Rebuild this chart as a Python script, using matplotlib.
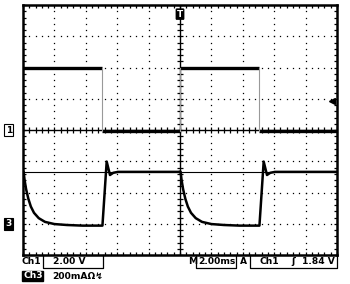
import matplotlib
matplotlib.use("Agg")
import matplotlib.pyplot as plt
import numpy as np

# scope settings
CH1_VOLTS_PER_DIV = 2.0
CH3_MA_PER_DIV = 200.0
CH3_OFFSET_DIV = -3.0
TRIG_LEVEL_V = 1.84

# Ch1 gate voltage (square wave), time in ms
ch1_edges_ms = [0.0, 5.0, 10.0, 15.0, 20.0]
ch1_levels_v = [3.94, -0.04, 3.94, -0.04]

# Ch3 current over one period (ms, mA)
ch3_t_ms = [0.0, 0.04, 0.10, 0.20, 0.34, 0.50, 0.70, 1.00, 1.40, 2.00,
            2.80, 3.80, 5.06, 5.33, 5.54, 5.75, 6.05, 10.0]
ch3_i_ma = [332, 332, 280, 220, 160, 110, 70, 36, 12, -2,
            -8, -12, -12, 398, 312, 326, 332, 332]
ch3_period_ms = 10.0
ch3_ref_ma = 332

fig = plt.figure(figsize=(3.5, 2.84), dpi=100)
ax = fig.add_axes([23 / 350, 29 / 284, 314 / 350, 250 / 284])
ax.set_xlim(0, 20)
ax.set_ylim(-4, 4)

# dotted graticule
minor_x = np.arange(0, 20.001, 0.4)
minor_y = np.arange(-4, 4.001, 0.2)
for gx in np.arange(2, 20, 2):
    if gx != 10:
        ax.plot(np.full(minor_y.size, gx), minor_y, ls="none", marker="s",
                ms=0.9, color="black", mew=0)
for gy in np.arange(-3, 4, 1):
    if gy != 0:
        ax.plot(minor_x, np.full(minor_x.size, gy), ls="none", marker="s",
                ms=0.9, color="black", mew=0)

# center cross with small ticks
ax.axvline(10, color="black", lw=1.0)
ax.axhline(0, color="black", lw=1.0)
ax.plot(minor_x, np.zeros(minor_x.size), ls="none", marker="|", ms=4,
        color="black", mew=0.9)
ax.plot(np.full(minor_y.size, 10), minor_y, ls="none", marker="_", ms=4,
        color="black", mew=0.9)

# frame ticks
ax.set_xticks(minor_x)
ax.set_yticks(minor_y)
ax.tick_params(direction="in", length=2.2, width=0.9, top=True, right=True,
               labelbottom=False, labelleft=False)
for side in ["left", "right", "top", "bottom"]:
    ax.spines[side].set_linewidth(1.8)

# Ch3 reference line and trace
ax.axhline(CH3_OFFSET_DIV + ch3_ref_ma / CH3_MA_PER_DIV, color="black", lw=0.8)
t = np.array(ch3_t_ms)
i = np.array(ch3_i_ma)
for k in range(2):
    ax.plot(t + k * ch3_period_ms, CH3_OFFSET_DIV + i / CH3_MA_PER_DIV,
            color="black", lw=1.8, solid_joinstyle="round")

# Ch1 trace
for k in range(len(ch1_levels_v)):
    y = ch1_levels_v[k] / CH1_VOLTS_PER_DIV
    ax.plot([ch1_edges_ms[k], ch1_edges_ms[k + 1]], [y, y], color="black", lw=2.4,
            solid_capstyle="butt")
    if k > 0:
        y0 = ch1_levels_v[k - 1] / CH1_VOLTS_PER_DIV
        ax.plot([ch1_edges_ms[k]] * 2, [y0, y], color="#999999", lw=0.8)

# channel markers
ytr = ax.get_yaxis_transform()
ax.text(-0.045, 0, "1", transform=ytr, ha="center", va="center", fontsize=6.5,
        fontweight="bold", clip_on=False,
        bbox=dict(boxstyle="square,pad=0.15", fc="white", ec="black", lw=0.8))
ax.text(-0.045, CH3_OFFSET_DIV, "3", transform=ytr, ha="center", va="center",
        fontsize=6.5, fontweight="bold", color="white", clip_on=False,
        bbox=dict(boxstyle="square,pad=0.15", fc="black", ec="black", lw=0.8))
ax.plot([0.985], [TRIG_LEVEL_V / CH1_VOLTS_PER_DIV], transform=ytr, marker="<",
        ms=4, color="black", clip_on=False)
ax.text(10, 3.85, "T", ha="center", va="top", fontsize=6.5, fontweight="bold",
        color="white",
        bbox=dict(boxstyle="round,pad=0.1", fc="black", ec="black", lw=0.5))

# readout
fs = 6.6
row1 = 1 - 262 / 284
row2 = 1 - 276 / 284
fig.text(22 / 350, row1, "Ch1", fontsize=fs, fontweight="bold",
         va="center", ha="left")
fig.text(53 / 350, row1, "2.00 V", fontsize=fs, fontweight="bold",
         va="center", ha="left")
fig.text(23 / 350, row2, "Ch3", fontsize=fs, fontweight="bold",
         va="center", ha="left", color="white",
         bbox=dict(boxstyle="square,pad=0.08", fc="black", ec="black"))
fig.text(52 / 350, row2, "200mA\u03a9\u21af", fontsize=fs,
         fontweight="bold", va="center", ha="left")
fig.text(188 / 350, row1, "M", fontsize=fs, fontweight="bold",
         va="center", ha="left")
fig.text(198 / 350, row1, "2.00ms", fontsize=fs, fontweight="bold",
         va="center", ha="left")
fig.text(240 / 350, row1, "A", fontsize=fs, fontweight="bold",
         va="center", ha="left")
fig.text(259 / 350, row1, "Ch1", fontsize=fs, fontweight="bold",
         va="center", ha="left")
fig.text(293 / 350, row1, "\u0283", fontsize=fs, fontweight="bold",
         va="center", ha="center")
fig.text(335 / 350, row1, "1.84 V", fontsize=fs, fontweight="bold",
         va="center", ha="right")

# readout boxes (left, right edges in px)
for x0, x1 in [(43, 103), (196, 236), (250, 337)]:
    fig.add_artist(plt.Line2D([x0 / 350, x0 / 350, x1 / 350, x1 / 350],
                              [1 - 255 / 284, 1 - 268 / 284, 1 - 268 / 284,
                               1 - 255 / 284],
                              color="black", lw=0.9))

fig.savefig("out.png", dpi=100)
